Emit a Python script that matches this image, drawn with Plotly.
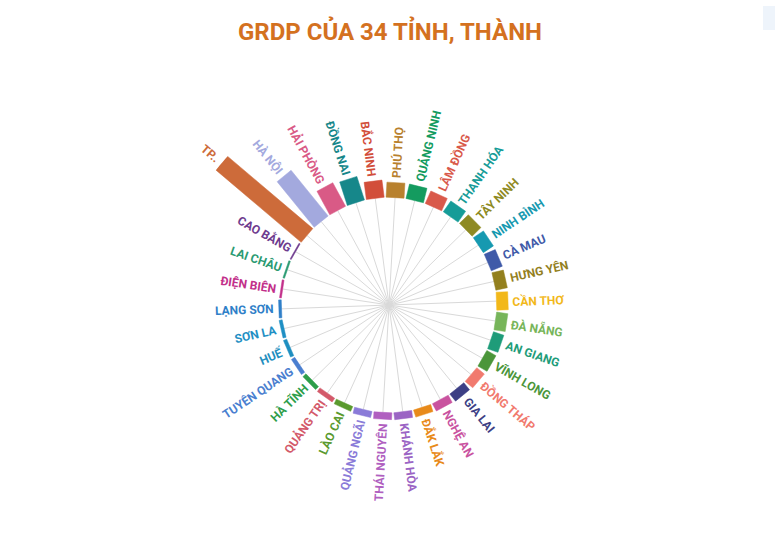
import math
import plotly.graph_objects as go

# ---- data (GRDP, nghìn tỷ đồng, ước) ----
provinces = ["TP..", "HÀ NỘI", "HẢI PHÒNG", "ĐỒNG NAI", "BẮC NINH", "PHÚ THỌ",
             "QUẢNG NINH", "LÂM ĐỒNG", "THANH HÓA", "TÂY NINH", "NINH BÌNH",
             "CÀ MAU", "HƯNG YÊN", "CẦN THƠ", "ĐÀ NẴNG", "AN GIANG", "VĨNH LONG",
             "ĐỒNG THÁP", "GIA LAI", "NGHỆ AN", "ĐẮK LẮK", "KHÁNH HÒA",
             "THÁI NGUYÊN", "QUẢNG NGÃI", "LÀO CAI", "QUẢNG TRỊ", "HÀ TĨNH",
             "TUYÊN QUANG", "HUẾ", "SƠN LA", "LẠNG SƠN", "ĐIỆN BIÊN", "LAI CHÂU",
             "CAO BẰNG"]
grdp = [2716, 1426, 650, 600, 420, 365,
        360, 330, 320, 300, 295,
        290, 285, 280, 275, 265, 255,
        240, 220, 200, 180, 170,
        165, 150, 125, 110, 100,
        95, 85, 75, 65, 45, 40,
        30]
colors = ["#CD6B3A", "#A3A9DE", "#D95A86", "#16878A", "#D24E3A", "#B8812E",
          "#149B5F", "#D9594A", "#169C98", "#8E8A23", "#1699B0",
          "#3F5AA8", "#93801E", "#F2B81A", "#77B55A", "#1E9C79", "#4B963A",
          "#F17A6E", "#3D3F85", "#C9539F", "#E88A1A", "#9B64C4",
          "#B05FC0", "#8A7BD8", "#5A9A2E", "#D35A6A", "#2E9E4A",
          "#4A7FD0", "#1E8FC0", "#1E8FC4", "#2F7FC8", "#C2308A", "#2A9A72",
          "#6E3B8E"]
title_text = "GRDP CỦA 34 TỈNH, THÀNH"

# ---- layout geometry ----
W, H = 775, 549
cx, cy = 389, 305          # centre of the ring (px, from top-left)
r_in_px = 107.5            # inner ring radius
max_len_px = 112           # length of the longest bar
bar_half_px = 9            # half of the (constant) bar thickness
n = len(provinces)
step = 360 / n
theta0 = -49.7
thetas = [theta0 + i * step for i in range(n)]

unit = max_len_px / max(grdp)            # px per value unit
base = r_in_px / unit                    # inner offset in value units
rmax = base + max(grdp)
R_px = rmax * unit
half = bar_half_px / unit


def bar_outline(value, theta):
    """Rectangle of constant thickness along the ray, in polar (value) coords."""
    r0, r1 = base, base + value
    d0 = math.degrees(math.atan2(half, r0))
    d1 = math.degrees(math.atan2(half, r1))
    q0 = math.hypot(r0, half)
    q1 = math.hypot(r1, half)
    return ([q0, q1, q1, q0, q0],
            [theta - d0, theta - d1, theta + d1, theta + d0, theta - d0])


fig = go.Figure()

# radial guide lines from centre to the ring
lr, lt = [], []
for t in thetas:
    lr += [0, base, None]
    lt += [t, t, None]
fig.add_trace(go.Scatterpolar(r=lr, theta=lt, mode="lines",
                              line=dict(color="#D9D9D9", width=1),
                              hoverinfo="skip", showlegend=False))

for name, v, t, c in zip(provinces, grdp, thetas, colors):
    rr, tt = bar_outline(v, t)
    fig.add_trace(go.Scatterpolar(r=rr, theta=tt, mode="lines", fill="toself",
                                  fillcolor=c, line=dict(color=c, width=0.5),
                                  name=name, hoveron="fills",
                                  hovertemplate=f"{name}: {v}<extra></extra>",
                                  showlegend=False))

# radial labels
annotations = []
for name, v, t, c in zip(provinces, grdp, thetas, colors):
    rp = (base + v) * unit + 5
    a = math.radians(t)
    x = cx + rp * math.sin(a)
    y = cy - rp * math.cos(a)
    tn = t % 360
    hidden = "<span style='color:rgba(0,0,0,0)'>" + name + "</span>"
    if tn < 180:
        ang = tn - 90
        txt = hidden + name
    else:
        ang = tn - 270
        txt = name + hidden
    if ang > 180:
        ang -= 360
    if ang < -180:
        ang += 360
    annotations.append(dict(x=x / W, y=(H - y) / H, xref="paper", yref="paper",
                            text=txt, showarrow=False, textangle=ang,
                            xanchor="center", yanchor="middle",
                            font=dict(family="Roboto", size=12, color=c, weight="bold")))

fig.update_layout(
    width=W, height=H,
    margin=dict(l=0, r=0, t=0, b=0),
    paper_bgcolor="white",
    title=dict(text=title_text, x=390 / W, xanchor="center",
               y=1 - 32 / H, yanchor="middle", yref="container",
               font=dict(family="Roboto", size=24, color="#D4711F", weight="bold")),
    polar=dict(
        domain=dict(x=[(cx - R_px) / W, (cx + R_px) / W],
                    y=[(H - cy - R_px) / H, (H - cy + R_px) / H]),
        bgcolor="rgba(0,0,0,0)",
        radialaxis=dict(range=[0, rmax], visible=False, showgrid=False),
        angularaxis=dict(rotation=90, direction="clockwise", visible=False,
                         showgrid=False, thetaunit="degrees"),
    ),
    annotations=annotations,
    shapes=[dict(type="rect", xref="paper", yref="paper",
                 x0=763 / W, x1=1, y0=1 - 30 / H, y1=1 - 6 / H,
                 fillcolor="#EEF4FB", line=dict(width=0), layer="below")],
)

fig.write_html("out.html")
